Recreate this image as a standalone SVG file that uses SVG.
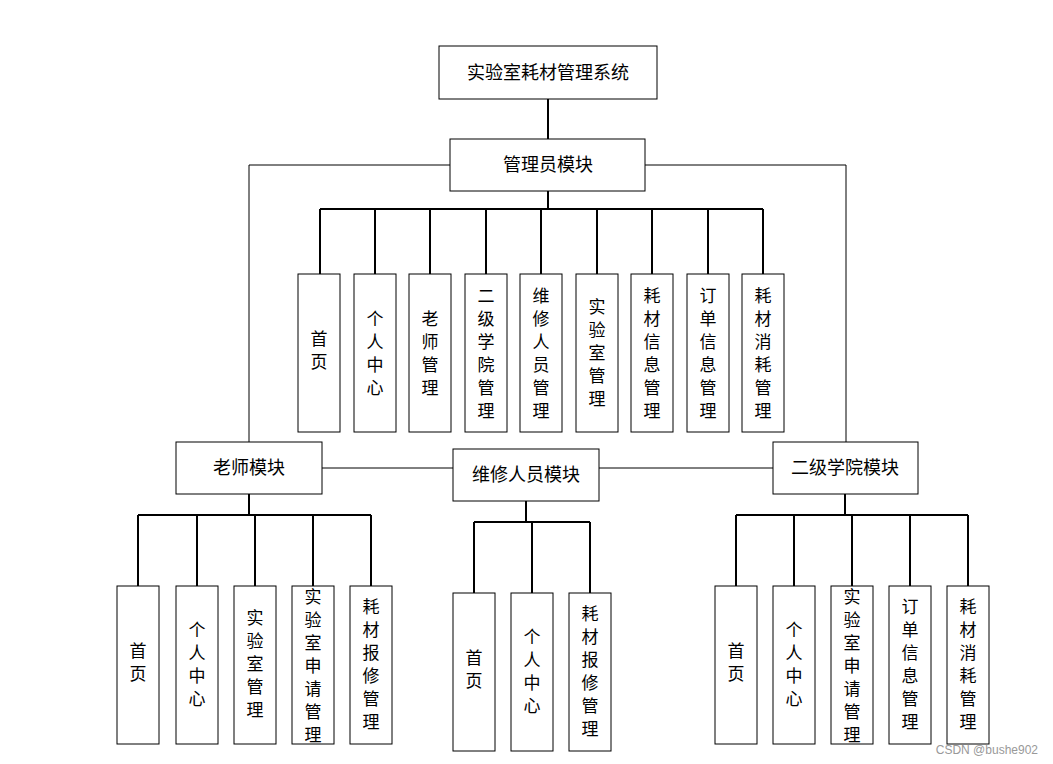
<svg xmlns="http://www.w3.org/2000/svg" width="1053" height="764" viewBox="0 0 1053 764">
<style>
.b{fill:#fff;stroke:#000;stroke-width:1}
.t{font-family:"Noto Sans CJK SC","Liberation Serif",serif;font-size:18px;fill:#000;text-anchor:middle}
.v{font-family:"Noto Sans CJK SC","Liberation Serif",serif;font-size:17px;fill:#000;text-anchor:middle}
.k{stroke:#000;stroke-width:2;fill:none}
.n{stroke:#000;stroke-width:1;fill:none}
</style>
<rect width="1053" height="764" fill="#fff"/>
<g id="connectors">
<path class="k" d="M548 99V139M548 191V209M320 209H763M320 209V274M375 209V274M430 209V274M486 209V274M541 209V274M597 209V274M652 209V274M708 209V274M763 209V274"/>
<path class="n" d="M450 165H249V442M645 165H846V442M322 468H453M599 468H773"/>
<path class="k" d="M249 494V515M138 515H371M138 515V586M197 515V586M255 515V586M313 515V586M371 515V586"/>
<path class="k" d="M526 501V522M474 522H590M474 522V593M532 522V593M590 522V593"/>
<path class="k" d="M845 494V515M736 515H968M736 515V586M794 515V586M852 515V586M910 515V586M968 515V586"/>
</g>
<g id="root"><rect class="b" x="439" y="46" width="218" height="53"/><text class="t" x="548" y="79">实验室耗材管理系统</text></g>
<g id="admin"><rect class="b" x="450" y="139" width="195" height="52"/><text class="t" x="548" y="171">管理员模块</text></g>
<g id="teacher"><rect class="b" x="176" y="442" width="146" height="52"/><text class="t" x="249" y="474">老师模块</text></g>
<g id="repair"><rect class="b" x="453" y="449" width="146" height="52"/><text class="t" x="526" y="481">维修人员模块</text></g>
<g id="college"><rect class="b" x="773" y="442" width="145" height="52"/><text class="t" x="845" y="474">二级学院模块</text></g>
<g id="a1"><rect class="b" x="298" y="274" width="42" height="158"/><text class="v" x="319"><tspan x="319" y="345">首</tspan><tspan x="319" y="368">页</tspan></text></g>
<g id="a2"><rect class="b" x="354" y="274" width="42" height="158"/><text class="v"><tspan x="375" y="325">个</tspan><tspan x="375" y="348">人</tspan><tspan x="375" y="371">中</tspan><tspan x="375" y="394">心</tspan></text></g>
<g id="a3"><rect class="b" x="409" y="274" width="42" height="158"/><text class="v"><tspan x="430" y="325">老</tspan><tspan x="430" y="348">师</tspan><tspan x="430" y="371">管</tspan><tspan x="430" y="394">理</tspan></text></g>
<g id="a4"><rect class="b" x="465" y="274" width="42" height="158"/><text class="v"><tspan x="486" y="302">二</tspan><tspan x="486" y="325">级</tspan><tspan x="486" y="348">学</tspan><tspan x="486" y="371">院</tspan><tspan x="486" y="394">管</tspan><tspan x="486" y="417">理</tspan></text></g>
<g id="a5"><rect class="b" x="520" y="274" width="42" height="158"/><text class="v"><tspan x="541" y="302">维</tspan><tspan x="541" y="325">修</tspan><tspan x="541" y="348">人</tspan><tspan x="541" y="371">员</tspan><tspan x="541" y="394">管</tspan><tspan x="541" y="417">理</tspan></text></g>
<g id="a6"><rect class="b" x="576" y="274" width="42" height="158"/><text class="v"><tspan x="597" y="313">实</tspan><tspan x="597" y="336">验</tspan><tspan x="597" y="359">室</tspan><tspan x="597" y="382">管</tspan><tspan x="597" y="405">理</tspan></text></g>
<g id="a7"><rect class="b" x="631" y="274" width="42" height="158"/><text class="v"><tspan x="652" y="302">耗</tspan><tspan x="652" y="325">材</tspan><tspan x="652" y="348">信</tspan><tspan x="652" y="371">息</tspan><tspan x="652" y="394">管</tspan><tspan x="652" y="417">理</tspan></text></g>
<g id="a8"><rect class="b" x="687" y="274" width="42" height="158"/><text class="v"><tspan x="708" y="302">订</tspan><tspan x="708" y="325">单</tspan><tspan x="708" y="348">信</tspan><tspan x="708" y="371">息</tspan><tspan x="708" y="394">管</tspan><tspan x="708" y="417">理</tspan></text></g>
<g id="a9"><rect class="b" x="742" y="274" width="42" height="158"/><text class="v"><tspan x="763" y="302">耗</tspan><tspan x="763" y="325">材</tspan><tspan x="763" y="348">消</tspan><tspan x="763" y="371">耗</tspan><tspan x="763" y="394">管</tspan><tspan x="763" y="417">理</tspan></text></g>
<g id="t1"><rect class="b" x="117" y="586" width="42" height="158"/><text class="v"><tspan x="138" y="657">首</tspan><tspan x="138" y="680">页</tspan></text></g>
<g id="t2"><rect class="b" x="176" y="586" width="42" height="158"/><text class="v"><tspan x="197" y="636">个</tspan><tspan x="197" y="659">人</tspan><tspan x="197" y="682">中</tspan><tspan x="197" y="705">心</tspan></text></g>
<g id="t3"><rect class="b" x="234" y="586" width="42" height="158"/><text class="v"><tspan x="255" y="624">实</tspan><tspan x="255" y="647">验</tspan><tspan x="255" y="670">室</tspan><tspan x="255" y="693">管</tspan><tspan x="255" y="716">理</tspan></text></g>
<g id="t4"><rect class="b" x="292" y="586" width="42" height="158"/><text class="v"><tspan x="313" y="603">实</tspan><tspan x="313" y="626">验</tspan><tspan x="313" y="649">室</tspan><tspan x="313" y="672">申</tspan><tspan x="313" y="695">请</tspan><tspan x="313" y="718">管</tspan><tspan x="313" y="741">理</tspan></text></g>
<g id="t5"><rect class="b" x="350" y="586" width="42" height="158"/><text class="v"><tspan x="371" y="613">耗</tspan><tspan x="371" y="636">材</tspan><tspan x="371" y="659">报</tspan><tspan x="371" y="682">修</tspan><tspan x="371" y="705">管</tspan><tspan x="371" y="728">理</tspan></text></g>
<g id="r1"><rect class="b" x="453" y="593" width="42" height="158"/><text class="v"><tspan x="474" y="664">首</tspan><tspan x="474" y="687">页</tspan></text></g>
<g id="r2"><rect class="b" x="511" y="593" width="42" height="158"/><text class="v"><tspan x="532" y="643">个</tspan><tspan x="532" y="666">人</tspan><tspan x="532" y="689">中</tspan><tspan x="532" y="712">心</tspan></text></g>
<g id="r3"><rect class="b" x="569" y="593" width="42" height="158"/><text class="v"><tspan x="590" y="620">耗</tspan><tspan x="590" y="643">材</tspan><tspan x="590" y="666">报</tspan><tspan x="590" y="689">修</tspan><tspan x="590" y="712">管</tspan><tspan x="590" y="735">理</tspan></text></g>
<g id="c1"><rect class="b" x="715" y="586" width="42" height="158"/><text class="v"><tspan x="736" y="657">首</tspan><tspan x="736" y="680">页</tspan></text></g>
<g id="c2"><rect class="b" x="773" y="586" width="42" height="158"/><text class="v"><tspan x="794" y="636">个</tspan><tspan x="794" y="659">人</tspan><tspan x="794" y="682">中</tspan><tspan x="794" y="705">心</tspan></text></g>
<g id="c3"><rect class="b" x="831" y="586" width="42" height="158"/><text class="v"><tspan x="852" y="603">实</tspan><tspan x="852" y="626">验</tspan><tspan x="852" y="649">室</tspan><tspan x="852" y="672">申</tspan><tspan x="852" y="695">请</tspan><tspan x="852" y="718">管</tspan><tspan x="852" y="741">理</tspan></text></g>
<g id="c4"><rect class="b" x="889" y="586" width="42" height="158"/><text class="v"><tspan x="910" y="613">订</tspan><tspan x="910" y="636">单</tspan><tspan x="910" y="659">信</tspan><tspan x="910" y="682">息</tspan><tspan x="910" y="705">管</tspan><tspan x="910" y="728">理</tspan></text></g>
<g id="c5"><rect class="b" x="947" y="586" width="42" height="158"/><text class="v"><tspan x="968" y="613">耗</tspan><tspan x="968" y="636">材</tspan><tspan x="968" y="659">消</tspan><tspan x="968" y="682">耗</tspan><tspan x="968" y="705">管</tspan><tspan x="968" y="728">理</tspan></text></g>
<text x="1038" y="754" font-family="Liberation Sans,sans-serif" font-size="12" fill="#999" text-anchor="end">CSDN @bushe902</text>
</svg>
